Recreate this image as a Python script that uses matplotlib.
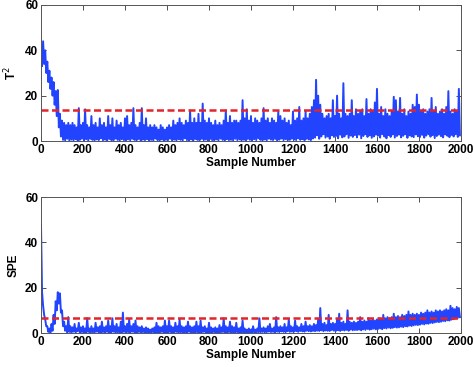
import numpy as np
import matplotlib.pyplot as plt

# T2 statistic, peaks read at samples 0,10,20,... and troughs at 5,15,25,...
t2_peak = [
    37, 44, 40, 35, 31, 28, 26, 22, 22.5, 12,
    9, 8, 7, 8, 7, 8, 7, 6, 14.5, 7,
    8, 14, 7, 6, 11, 7, 8, 6, 10, 7,
    8, 6, 11, 7, 10, 6, 9, 7, 8, 6,
    10, 11, 7, 8, 14.5, 7, 6, 8, 14.5, 7,
    10, 6, 7, 6, 7, 6, 5, 7, 6, 5,
    6, 7, 6, 9, 7, 8, 10, 8, 7, 9,
    8, 13.5, 8, 10, 8, 12, 8, 16.5, 9, 8,
    10, 8, 7, 9, 7, 8, 7, 9, 13.5, 8,
    11, 8, 9, 9, 8, 9, 18, 10, 14, 9,
    11, 8, 10, 9, 8, 10, 14.5, 9, 10, 8,
    10, 9, 8, 13, 11, 9, 10, 8, 9, 7,
    13, 9, 10, 15, 9, 10, 13, 10, 12, 15,
    18, 27, 20, 16, 12, 10, 11, 12, 10, 18,
    11, 20, 12, 10, 25.5, 12, 11, 12, 18, 11,
    14, 12, 13, 14, 11, 18.5, 12, 14, 13, 17,
    23, 12, 15, 11, 14, 12, 11, 13, 19.5, 18,
    13, 19, 12, 14, 11, 13, 12, 16, 15, 20.5,
    16, 13, 14, 12, 13, 14, 19, 13, 15, 12,
    13, 14, 12, 15, 22, 13, 12, 14, 13, 23,
]
t2_low = [
    33, 34, 30, 26, 23, 20, 16, 11, 6, 2,
    0.5, 0.3, 1, 0.2, 0.6, 0.3, 0.8, 0.2, 0.5, 1,
    0.3, 0.8, 0.2, 1, 0.5, 0.2, 0.7, 0.4, 1.2, 0.3,
    0.6, 0.2, 0.9, 0.4, 0.3, 1.1, 0.5, 0.2, 0.8, 0.4,
    0.2, 0.7, 0.3, 1, 0.5, 0.3, 0.9, 0.2, 0.6, 0.4,
    0.8, 0.3, 0.5, 0.2, 1.1, 0.4, 0.3, 0.7, 0.2, 0.5,
    0.4, 1, 0.3, 0.6, 0.2, 0.8, 0.5, 0.3, 1.2, 0.4,
    0.3, 0.7, 0.2, 0.9, 0.5, 0.3, 1, 0.4, 0.6, 0.2,
    0.9, 0.4, 0.3, 0.7, 0.2, 1.1, 0.5, 0.3, 0.8, 0.4,
    0.5, 0.2, 1, 0.4, 0.7, 0.3, 0.6, 0.2, 0.9, 0.5,
    0.3, 0.8, 0.4, 1.2, 0.5, 0.3, 0.7, 0.2, 1, 0.6,
    0.4, 0.9, 0.3, 0.6, 1.1, 0.4, 0.8, 0.3, 0.5, 1,
    0.6, 0.4, 1.2, 0.5, 0.8, 0.3, 1, 0.7, 0.4, 1.1,
    1.5, 2.5, 1, 2, 3, 1.5, 2, 1, 2.5, 1.8,
    2.2, 1.2, 2.8, 1.6, 2, 3, 1.4, 2.4, 1.8, 2.6,
    1.6, 2.8, 1.2, 2.2, 3, 1.8, 2.5, 1.4, 2, 2.8,
    2.4, 1.5, 3, 2, 1.2, 2.6, 1.8, 2.9, 1.5, 2.2,
    2.8, 1.6, 2.3, 3, 1.4, 2.5, 2, 1.7, 2.9, 2.1,
    1.8, 2.7, 1.5, 2.4, 3, 1.9, 2.6, 1.3, 2.2, 2.8,
    2.1, 1.6, 2.9, 2.3, 1.7, 2.7, 2, 3, 1.8, 2.5,
]

# SPE statistic, same layout
spe_peak = [
    48, 12, 6, 3, 2, 4, 8, 14, 18, 17.5,
    10, 5, 3, 7, 3, 2.5, 4, 2, 4.5, 2.5,
    3, 2, 6.5, 2, 3, 2, 4.5, 2.5, 3, 5,
    2.5, 3, 5.5, 3, 6.5, 3, 4, 2.5, 5, 9,
    3, 4, 6, 3, 4, 5.5, 3, 2.5, 3, 2,
    2.5, 2, 1.5, 2, 2.5, 4.5, 3, 2.5, 3, 5.5,
    3, 5.5, 3, 2.5, 4.5, 3, 6, 3, 2.5, 3,
    5, 3, 2.5, 3, 5, 3, 5.5, 2.5, 3, 2,
    4.5, 2.5, 2, 2.5, 2, 3.5, 2.5, 6.5, 3, 2.5,
    5, 3, 2.5, 4.5, 2, 2.5, 5.5, 2, 1.5, 2,
    1.5, 3, 1.5, 2, 6.5, 2, 2.5, 2, 3, 4,
    2, 2.5, 7, 2.5, 3, 2.5, 4, 2.5, 6, 3,
    2.5, 5.5, 3, 2.5, 4, 3, 5, 3, 3.5, 3,
    4, 3.5, 6, 11, 4, 4.5, 3.5, 8, 4, 4.5,
    4, 6, 8.5, 4.5, 5, 4, 10, 5, 4.5, 5,
    4.5, 5, 7, 5, 5.5, 5, 6.5, 5.5, 6, 5.5,
    6, 6.5, 6, 8, 6.5, 7, 6.5, 7, 8.5, 7,
    7.5, 7, 8, 7.5, 8, 9.5, 8, 8.5, 8, 8.5,
    8, 9, 8.5, 9, 10, 9, 9.5, 9, 10, 9.5,
    10, 9.5, 10, 10.5, 10, 12, 11, 10.5, 11.5, 11,
]
spe_low = [
    18, 8, 3, 0.5, 0.2, 1, 4, 10, 13, 9,
    3, 1, 0.3, 0.5, 0.2, 0.6, 0.3, 0.8, 0.2, 0.4,
    0.3, 0.2, 0.5, 0.1, 0.4, 0.2, 0.6, 0.3, 0.1, 0.4,
    0.2, 0.5, 0.1, 0.3, 0.6, 0.2, 0.4, 0.1, 0.3, 0.5,
    0.1, 0.4, 0.2, 0.6, 0.3, 0.1, 0.5, 0.2, 0.4, 0.1,
    0.3, 0.1, 0.2, 0.4, 0.1, 0.3, 0.2, 0.5, 0.1, 0.3,
    0.2, 0.4, 0.1, 0.3, 0.5, 0.2, 0.4, 0.1, 0.3, 0.2,
    0.5, 0.1, 0.3, 0.2, 0.4, 0.1, 0.3, 0.5, 0.2, 0.1,
    0.3, 0.2, 0.4, 0.1, 0.3, 0.2, 0.5, 0.1, 0.2, 0.4,
    0.1, 0.3, 0.2, 0.4, 0.1, 0.2, 0.3, 0.1, 0.2, 0.1,
    0.2, 0.3, 0.2, 0.4, 0.3, 0.5, 0.3, 0.4, 0.6, 0.4,
    0.5, 0.3, 0.6, 0.4, 0.7, 0.5, 0.4, 0.8, 0.5, 0.6,
    0.6, 0.8, 0.5, 0.9, 0.7, 0.6, 1, 0.8, 0.7, 0.9,
    0.8, 1, 0.9, 1.2, 0.8, 1.1, 1, 0.9, 1.3, 1,
    1, 1.2, 0.9, 1.3, 1.1, 1.4, 1, 1.5, 1.2, 1.3,
    1.3, 1.5, 1.2, 1.6, 1.4, 1.8, 1.5, 1.7, 1.9, 1.6,
    1.8, 2, 1.7, 2.2, 2, 2.4, 2.1, 2.3, 2.6, 2.4,
    2.5, 2.8, 2.6, 3, 2.9, 3.3, 3.1, 3.4, 3.6, 3.5,
    3.7, 4, 3.8, 4.2, 4.1, 4.5, 4.4, 4.7, 4.9, 4.8,
    5, 5.3, 5.2, 5.6, 5.5, 5.9, 6.1, 6.4, 6.7, 7,
]

t2_limit = 13.7
spe_limit = 6.8
x_ticks = [0, 200, 400, 600, 800, 1000, 1200, 1400, 1600, 1800, 2000]
y_ticks = [0, 20, 40, 60]

plt.rcParams['font.family'] = ['Liberation Sans', 'DejaVu Sans']

blue = '#2244ff'
red = '#e3242b'


def zigzag(peak, low):
    # peak at 10*i, trough at 10*i + 5
    y = np.column_stack([peak, low]).ravel()
    x = np.arange(len(y)) * 5
    return x, y


fig = plt.figure(figsize=(4.74, 3.67), dpi=100)
ax1 = fig.add_axes([0.0865, 0.6158, 0.886, 0.3706])
ax2 = fig.add_axes([0.0865, 0.0926, 0.886, 0.3706])

panels = [(ax1, t2_peak, t2_low, t2_limit, 'T$^2$'),
          (ax2, spe_peak, spe_low, spe_limit, 'SPE')]

for ax, peak, low, lim, lab in panels:
    x, y = zigzag(peak, low)
    ax.plot(x, y, color=blue, lw=1.4)
    ax.plot([0, 2000], [lim, lim], '--', color=red, lw=1.8, dashes=(2.8, 1.4))
    ax.set_xlim(0, 2000)
    ax.set_ylim(0, 60)
    ax.set_xticks(x_ticks)
    ax.set_yticks(y_ticks)
    ax.tick_params(direction='in', top=True, right=True, length=3.5,
                   width=0.6, labelsize=8.5, pad=2, colors='#333333',
                   labelcolor='black')
    for lbl in ax.get_xticklabels() + ax.get_yticklabels():
        lbl.set_fontweight('bold')
    for sp in ax.spines.values():
        sp.set_linewidth(0.7)
        sp.set_color('#555555')
    ax.set_xlabel('Sample Number', fontsize=8.5, fontweight='bold', labelpad=1)
    ax.set_ylabel(lab, fontsize=8.5, fontweight='bold', labelpad=4)

fig.savefig('out.png', dpi=100)
